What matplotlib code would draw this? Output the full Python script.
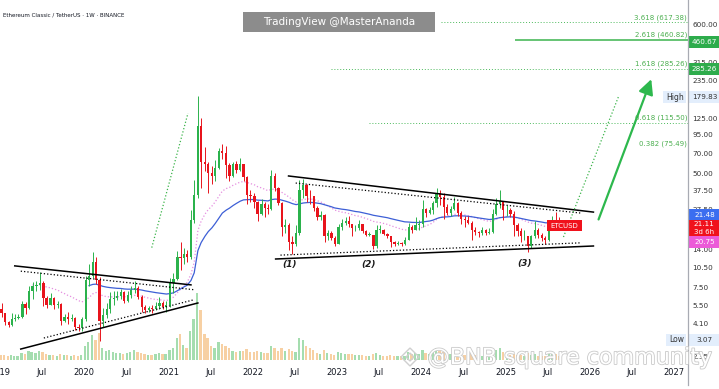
import numpy as np
import pandas as pd
import matplotlib
matplotlib.use('Agg')
import matplotlib.pyplot as plt
import matplotlib.dates as mdates
from matplotlib.patches import Rectangle, FancyArrowPatch, Polygon
from matplotlib.lines import Line2D
import matplotlib.patheffects as pe

# half-month candles, ETC/USDT (from mid 2018, so the averages start where they do)
first_open = 15.0
closes = [13.5, 15.5, 17.5, 16.5, 13.0, 12.5, 11.0, 10.5, 9.8, 9.4, 9.2, 4.8, 3.9, 5.2,
          4.9, 4.2, 4.0, 4.4, 4.5, 4.6, 5.7, 5.3, 7.0, 7.7, 7.8, 8.0, 6.3, 5.6, 6.3, 5.6, 5.7, 4.3, 4.6, 4.4, 4.5, 3.9, 3.8, 4.4,
          8.5, 9.0, 11.5, 8.5, 4.3, 4.7, 5.2, 6.2, 6.3, 6.5, 6.9, 6.0, 6.6, 7.2, 7.4, 6.4, 5.4, 5.1, 5.3, 5.2, 5.5, 5.8, 5.4, 5.6,
          8.0, 8.6, 12.5, 12.2, 13.0, 12.5, 23.0, 35.0, 110.0, 60.0, 58.0, 50.0, 48.0, 55.0, 72.0, 70.0, 57.0, 48.0, 58.0, 53.0, 58.0, 47.0, 35.0, 34.0,
          31.0, 25.5, 30.0, 28.0, 27.5, 48.0, 39.0, 30.5, 20.5, 21.0, 16.0, 15.5, 18.5, 38.0, 41.0, 34.5, 34.0, 28.0, 24.0, 25.0, 17.5, 18.5, 17.0, 15.5,
          20.5, 22.0, 22.5, 21.5, 20.0, 20.0, 21.5, 19.0, 18.0, 18.0, 15.0, 19.5, 19.5, 18.2, 17.5, 15.8, 15.5, 15.7, 15.3, 16.5, 20.5, 19.5, 21.0, 21.5,
          27.5, 26.0, 27.0, 30.5, 36.0, 33.5, 28.5, 26.0, 27.5, 30.5, 26.0, 23.5, 23.0, 22.0, 19.5, 18.9, 18.4, 19.5, 18.6, 18.8, 25.5, 30.0, 31.5, 27.0,
          27.0, 25.5, 21.0, 19.0, 17.5, 17.5, 15.0, 17.5, 19.5, 18.0, 17.0, 16.4, 20.5, 23.0, 22.5, 21.11]
highs = [16.0, 16.0, 18.0, 19.0, 17.0, 13.5, 13.0, 11.5, 11.0, 10.0, 9.8, 9.3, 5.2, 5.8,
         5.8, 4.9, 4.3, 4.9, 4.8, 4.8, 6.0, 5.9, 7.6, 8.2, 8.3, 9.6, 8.3, 6.5, 6.8, 6.4, 6.0, 5.8, 4.8, 5.0, 4.8, 4.6, 4.1, 4.6,
         9.0, 11.0, 13.5, 12.4, 8.9, 5.3, 5.8, 6.9, 7.0, 7.0, 7.3, 7.0, 7.0, 7.7, 8.3, 7.6, 6.6, 5.6, 5.5, 5.6, 5.9, 6.4, 6.0, 6.0,
         8.8, 9.5, 13.8, 16.0, 14.5, 14.0, 27.0, 45.0, 179.83, 125.0, 78.0, 60.0, 56.0, 62.0, 76.0, 82.0, 79.0, 59.0, 60.0, 61.0, 65.0, 58.0, 48.0, 38.0,
         36.0, 31.5, 32.5, 31.0, 30.0, 52.8, 50.0, 40.0, 31.0, 23.5, 22.0, 17.5, 21.0, 44.6, 45.5, 42.0, 38.0, 34.0, 29.0, 26.5, 25.5, 19.5, 19.0, 17.5,
         21.5, 23.5, 24.0, 24.5, 21.5, 21.0, 23.0, 21.5, 19.5, 18.8, 18.0, 21.0, 21.0, 19.8, 18.5, 17.6, 16.2, 16.3, 16.0, 17.3, 22.0, 21.0, 24.0, 23.0,
         32.0, 28.0, 28.5, 31.5, 39.0, 38.0, 36.0, 30.0, 29.0, 33.5, 31.0, 26.5, 24.5, 24.5, 22.5, 20.5, 19.2, 20.5, 19.8, 20.2, 27.5, 33.0, 38.0, 31.5,
         29.5, 28.0, 26.5, 22.0, 20.0, 19.5, 17.2, 18.0, 22.5, 20.0, 18.5, 17.5, 21.5, 24.5, 26.4, 24.0]
lows = [13.0, 12.0, 15.0, 15.5, 12.5, 11.2, 9.5, 10.0, 9.0, 9.0, 8.8, 4.2, 3.5, 3.8,
        4.6, 4.0, 3.85, 3.95, 4.3, 4.4, 4.5, 4.8, 5.2, 6.2, 7.0, 7.2, 5.5, 5.3, 5.6, 5.2, 5.3, 4.0, 4.2, 4.1, 4.3, 3.7, 3.6, 3.6,
        4.3, 7.6, 8.8, 7.9, 3.07, 3.9, 4.5, 4.9, 5.6, 6.1, 6.2, 5.8, 5.9, 6.3, 6.8, 6.2, 5.0, 4.9, 5.0, 4.9, 5.1, 5.2, 5.2, 5.0,
        5.4, 6.8, 8.5, 10.0, 11.0, 11.5, 12.0, 22.0, 33.0, 39.0, 52.0, 36.0, 42.0, 44.0, 54.0, 63.0, 46.0, 44.0, 47.0, 50.0, 52.0, 44.0, 30.0, 31.0,
        28.0, 22.5, 25.0, 24.0, 25.5, 27.0, 37.5, 29.5, 17.5, 18.5, 14.0, 13.0, 14.8, 18.0, 33.0, 31.0, 30.0, 26.5, 23.0, 23.0, 16.0, 16.5, 16.5, 15.0,
        15.5, 19.5, 21.0, 20.5, 17.5, 19.0, 19.5, 18.5, 17.5, 17.5, 14.2, 14.5, 18.5, 17.8, 17.0, 14.7, 15.0, 15.2, 14.9, 15.2, 16.4, 18.5, 19.5, 19.5,
        20.5, 24.0, 25.5, 25.5, 28.5, 29.5, 23.5, 25.0, 24.5, 27.0, 24.5, 21.5, 20.5, 21.5, 16.5, 18.0, 17.2, 17.8, 18.0, 18.2, 18.5, 25.0, 28.0, 23.0,
        24.5, 24.0, 17.5, 17.5, 16.0, 16.5, 13.5, 14.5, 17.0, 17.0, 16.3, 15.5, 16.3, 20.5, 20.5, 20.3]
volumes = [9, 8, 7, 7, 8, 6, 6, 5, 5, 4, 4, 9, 8, 7,
           5, 5, 4, 5, 4, 4, 7, 6, 9, 8, 7, 9, 8, 6, 5, 5, 4, 6, 5, 5, 4, 5, 4, 5,
           14, 18, 24, 20, 26, 12, 9, 10, 8, 7, 7, 6, 7, 8, 10, 8, 7, 6, 5, 5, 6, 7, 6, 6,
           10, 12, 22, 25, 15, 12, 28, 40, 65, 48, 25, 22, 14, 12, 18, 16, 14, 12, 9, 8, 9, 9, 11, 8,
           8, 9, 8, 7, 7, 14, 12, 9, 12, 9, 11, 9, 8, 22, 20, 14, 12, 10, 7, 6, 10, 7, 6, 5,
           8, 7, 6, 6, 6, 5, 5, 5, 4, 4, 6, 7, 5, 4, 4, 5, 4, 4, 4, 4, 8, 6, 7, 6,
           10, 7, 6, 8, 12, 9, 8, 6, 6, 7, 6, 5, 5, 4, 7, 5, 4, 4, 4, 4, 9, 10, 12, 8,
           6, 5, 6, 5, 5, 4, 7, 5, 6, 4, 4, 4, 6, 7, 6, 4]

# drawings: (date, price) pairs
triangle_lines = [(('2019-03-06', 10.7), ('2021-04-08', 7.8), '-'),
                  (('2019-04-01', 9.8), ('2021-04-20', 7.2), ':'),
                  (('2019-04-01', 2.68), ('2021-05-08', 5.77), '-'),
                  (('2019-07-10', 3.22), ('2021-04-16', 6.06), ':')]
channel_lines = [(('2022-06-05', 47.8), ('2026-01-17', 26.2), '-'),
                 (('2022-07-06', 42.5), ('2025-11-21', 25.8), ':'),
                 (('2022-04-10', 12.0), ('2026-01-17', 14.9), '-'),
                 (('2022-05-01', 12.8), ('2025-11-21', 15.7), ':')]
green_dotted = [(('2020-10-20', 14.5), ('2021-03-26', 136.0)),
                (('2025-09-09', 17.3), ('2026-05-05', 178.0))]
arrow_start = ('2026-02-04', 22.2)
arrow_end = ('2026-09-29', 250.0)
fib_levels = [('3.618', 617.38, '2024-03-25'), ('2.618', 460.82, '2025-02-13'),
              ('1.618', 285.26, '2022-12-06'), ('0.618', 115.50, '2023-05-22'),
              ('0.382', 75.49, None)]
price_ticks = [600, 315, 235, 125, 95, 70, 50, 37.5, 27.5, 14, 10.5, 7.5, 5.5, 4.1, 2.35]
wave_labels = [('(1)', '2022-06-10', 11.0), ('(2)', '2023-05-20', 11.0), ('(3)', '2025-03-25', 11.2)]

W, H = 719, 389
def fx(x):
    return x / W
def fy(y):
    return 1 - y / H

fig = plt.figure(figsize=(7.19, 3.89), dpi=100)
rect = [0, fy(362), fx(688), 362 / H]
axv = fig.add_axes(rect)
ax = fig.add_axes(rect)
ax.patch.set_visible(False)
ax.set_yscale('log')

dates = pd.date_range('2018-06-01', periods=len(closes), freq='SMS') + pd.Timedelta(days=7)
xd = mdates.date2num(dates)
closes = np.array(closes)
opens = np.concatenate([[first_open], closes[:-1]])
highs = np.array(highs)
lows = np.array(lows)
up = closes >= opens
green, red = '#2bb24c', '#e8141c'
cols = np.where(up, green, red)

ax.vlines(xd, lows, highs, colors=cols, lw=0.7, zorder=3)
bottoms = np.minimum(opens, closes)
heights = np.maximum(np.abs(closes - opens), bottoms * 0.01)
ax.bar(xd, heights, bottom=bottoms, width=10, color=cols, lw=0, zorder=4)

# 50 and 100 week EMAs (24 / 46 half-month candles)
ma_pink = pd.Series(closes).ewm(span=24, adjust=False, min_periods=24).mean()
ma_blue = pd.Series(closes).ewm(span=46, adjust=False, min_periods=40).mean()
ax.plot(xd, ma_pink, color='#e58fe0', lw=0.9, ls=':', zorder=2)
ax.plot(xd, ma_blue, color='#3d5fd6', lw=0.9, zorder=2)

def dn(s):
    return mdates.date2num(pd.Timestamp(s))

for (d0, p0), (d1, p1), ls in triangle_lines + channel_lines:
    ax.plot([dn(d0), dn(d1)], [p0, p1], color='black', lw=1.1 if ls == '-' else 0.9, ls=ls, zorder=5)
for (d0, p0), (d1, p1) in green_dotted:
    ax.plot([dn(d0), dn(d1)], [p0, p1], color='#3bb44a', lw=0.9, ls=':', zorder=5)
ax.add_patch(FancyArrowPatch((dn(arrow_start[0]), arrow_start[1]), (dn(arrow_end[0]), arrow_end[1]),
                             arrowstyle='-|>,head_length=6,head_width=3', color='#2db84d', lw=1.6,
                             mutation_scale=1.5, zorder=6))

xmin, xmax = dn('2019-01-05'), dn('2027-03-03')
for name, price, start in fib_levels:
    if start is not None:
        if name == '2.618':
            ax.hlines(price, dn(start), xmax, color='#4cba5c', lw=1.2, zorder=2)
        else:
            ax.hlines(price, dn(start), xmax, color='#4cba5c', lw=0.7, ls=(0, (1, 2)), zorder=2)
    ax.text(xmax - 4, price * 1.03, f'{name} ({price:.2f})', color='#4caf50', fontsize=5,
            ha='right', va='bottom', zorder=6)

for lab, d, p in wave_labels:
    ax.text(dn(d), p, lab, fontsize=6.5, style='italic', fontweight='bold', color='#1d1d1d',
            ha='center', va='center')

ax.set_xlim(xmin, xmax)
ax.set_ylim(2.16, 895)
ax.yaxis.tick_right()
ax.set_yticks(price_ticks)
ax.yaxis.set_major_formatter(matplotlib.ticker.FuncFormatter(lambda v, p: f'{v:.2f}'))
ax.yaxis.set_minor_locator(matplotlib.ticker.NullLocator())
ax.yaxis.set_minor_formatter(matplotlib.ticker.NullFormatter())
ax.tick_params(axis='y', length=0, pad=3, labelsize=5.2, labelcolor='#333333')

xt, xl = [], []
for yr in range(2019, 2028):
    xt.append(dn(f'{yr}-01-01'))
    xl.append(str(yr))
    if yr < 2027:
        xt.append(dn(f'{yr}-07-01'))
        xl.append('Jul')
ax.set_xticks(xt)
ax.set_xticklabels(xl)
ax.tick_params(axis='x', length=0, pad=4, labelsize=6, labelcolor='#131722')
for s in ['top', 'left', 'bottom', 'right']:
    ax.spines[s].set_visible(False)
fig.add_artist(Line2D([fx(688), fx(688)], [fy(0), fy(385)], color='#a8abb3', lw=0.9))

# volume
vcol = np.where(up, '#7fcf8e', '#f5bd7c')
axv.bar(xd, volumes, width=10, color=vcol, alpha=0.7, lw=0)
axv.set_ylim(-1.5, max(volumes) * 362 / 68)
axv.set_xlim(xmin, xmax)
axv.axis('off')

# price tags on the axis
def tag(y, txt, bg, fg='white', h=12, x0=688, x1=719, fs=5.2):
    fig.add_artist(Rectangle((fx(x0), fy(y + h / 2)), fx(x1 - x0), h / H, color=bg, lw=0))
    fig.text(fx((x0 + x1) / 2 + 1), fy(y), txt, color=fg, fontsize=fs, ha='center', va='center')

tag(42, '460.67', '#2eac4c')
tag(69, '285.26', '#2eac4c')
tag(97, '179.83', '#e3eefc', fg='#333333')
tag(340, '3.07', '#e3eefc', fg='#333333')
tag(215, '21.48', '#3b6ef0')
fig.add_artist(Rectangle((fx(688), fy(237)), fx(31), 17 / H, color='#f0121c', lw=0))
fig.text(fx(704), fy(224), '21.11', color='white', fontsize=5.2, ha='center', va='center')
fig.text(fx(704), fy(232), '3d 6h', color='white', fontsize=5, ha='center', va='center')
tag(242, '20.75', '#ec5bd8')
tag(97, 'High', '#e3eefc', fg='#333333', x0=663, x1=686, fs=5.5)
tag(340, 'Low', '#e3eefc', fg='#333333', x0=666, x1=686, fs=5.5)
fig.add_artist(Rectangle((fx(547), fy(231)), fx(35), 11 / H, color='#f0121c', lw=0))
fig.text(fx(564.5), fy(225.5), 'ETCUSD', color='white', fontsize=5, ha='center', va='center')

# header and watermarks
fig.text(fx(3), fy(15), 'Ethereum Classic / TetherUS \u00b7 1W \u00b7 BINANCE', fontsize=4.0,
         color='#131722', va='center')
fig.add_artist(Rectangle((fx(243), fy(32)), fx(192), 20 / H, color='#8c8c8c', lw=0))
fig.text(fx(339), fy(22), 'TradingView @MasterAnanda', color='white', fontsize=7.5,
         ha='center', va='center')
for r in (9, 4):
    fig.add_artist(Polygon([(fx(410 - r), fy(357)), (fx(410), fy(357 - r)), (fx(410 + r), fy(357)),
                            (fx(410), fy(357 + r))], closed=True, fill=False,
                           edgecolor='#cfcfcf', lw=1.0, zorder=10))
fig.text(fx(570), fy(358), '@BNB square community', fontsize=16, color='white', ha='center',
         va='center', path_effects=[pe.withStroke(linewidth=1.2, foreground='#c9c9c9')], zorder=10)

fig.savefig('out.png', dpi=100)
